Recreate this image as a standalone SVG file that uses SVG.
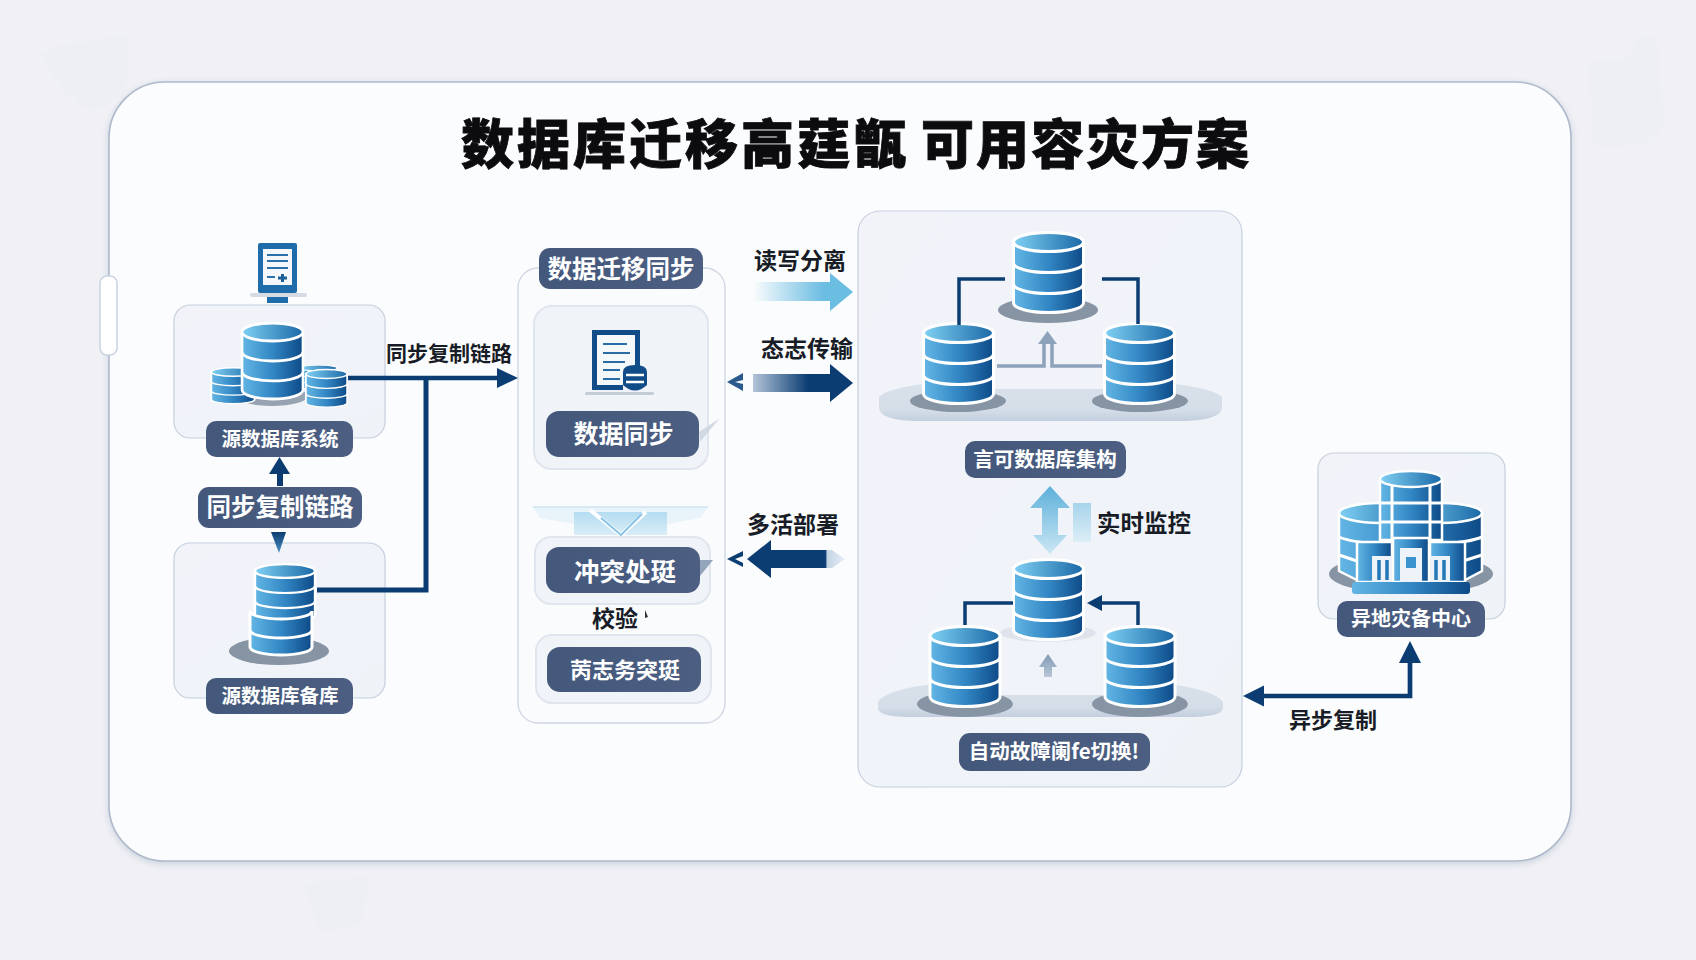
<svg xmlns="http://www.w3.org/2000/svg" xmlns:xlink="http://www.w3.org/1999/xlink" width="1696" height="960" viewBox="0 0 1696 960">
<style>
text{font-family:"Noto Sans CJK SC","Noto Sans",sans-serif}
.panel{fill:url(#panelFill);stroke:#c6d0de;stroke-width:1.2}
.sub{fill:#f0f3f8;stroke:#e0e6ee;stroke-width:2}
.pill{fill:url(#pillFill)}
.pt{fill:#fff;font-weight:700;text-anchor:middle;dominant-baseline:central;transform:translateY(-2px)}
.lb{fill:#171c26;font-weight:600;text-anchor:middle;dominant-baseline:central;transform:translateY(-2px)}
.navy{stroke:#0b3d73;fill:none}
.hd{fill:#0b3d73}
.shd{fill:#8794a4}
.band{fill:none;stroke:#fff;stroke-width:3}
.blk{fill:url(#bodyFill);stroke:#fff;stroke-width:2.5}
</style>
<defs>
<linearGradient id="panelFill" x1="0" y1="0" x2="1" y2="1"><stop offset="0" stop-color="#f1f3f9"/><stop offset="1" stop-color="#eff3f8"/></linearGradient>
<linearGradient id="pillFill" x1="0" y1="0" x2="1" y2="0"><stop offset="0" stop-color="#44587c"/><stop offset="1" stop-color="#4c5f83"/></linearGradient>
<linearGradient id="bodyFill" x1="0" y1="0" x2="1" y2="0"><stop offset="0" stop-color="#63b6e4"/><stop offset=".5" stop-color="#3287c4"/><stop offset="1" stop-color="#0d4a87"/></linearGradient>
<linearGradient id="topFill" x1="0" y1="0" x2="1" y2="0"><stop offset="0" stop-color="#7fd0f3"/><stop offset="1" stop-color="#1b69a7"/></linearGradient>
<linearGradient id="a1" x1="0" y1="0" x2="1" y2="0"><stop offset="0" stop-color="#6cbde2" stop-opacity="0"/><stop offset=".7" stop-color="#6cbde2"/></linearGradient>
<linearGradient id="a2" x1="0" y1="0" x2="1" y2="0"><stop offset="0" stop-color="#b3c4d8"/><stop offset=".55" stop-color="#0b3d73"/></linearGradient>
<linearGradient id="a3" x1="0" y1="0" x2="1" y2="0"><stop offset="0" stop-color="#0b3d73"/><stop offset=".8" stop-color="#0b3d73"/><stop offset=".82" stop-color="#c3d3e4"/><stop offset="1" stop-color="#e9eff6"/></linearGradient>
<linearGradient id="a4" x1="0" y1="0" x2="0" y2="1"><stop offset="0" stop-color="#5cb0da"/><stop offset="1" stop-color="#cbe6f4"/></linearGradient>
<linearGradient id="a5" x1="0" y1="0" x2="0" y2="1"><stop offset="0" stop-color="#a7d3ea"/><stop offset="1" stop-color="#dcEEf7"/></linearGradient>
<linearGradient id="a6" x1="0" y1="0" x2="0" y2="1"><stop offset="0" stop-color="#8098b3"/><stop offset="1" stop-color="#b9c8d8"/></linearGradient>
<linearGradient id="a7" x1="0" y1="0" x2="0" y2="1"><stop offset="0" stop-color="#0b3d73"/><stop offset="1" stop-color="#4d8fc2"/></linearGradient>
<linearGradient id="plat" x1="0" y1="0" x2="0" y2="1"><stop offset="0" stop-color="#d8e1ea"/><stop offset=".7" stop-color="#d5dee8"/><stop offset="1" stop-color="#c3cfde"/></linearGradient>
<linearGradient id="chev" x1="0" y1="0" x2="0" y2="1"><stop offset="0" stop-color="#b5dcf1"/><stop offset="1" stop-color="#d8edf8"/></linearGradient>
<filter id="soft" x="-5%" y="-5%" width="110%" height="110%"><feDropShadow dx="0" dy="2" stdDeviation="3" flood-color="#8fa2b8" flood-opacity=".4"/></filter>
<filter id="blur" x="-20%" y="-20%" width="140%" height="140%"><feGaussianBlur stdDeviation="3"/></filter>
<g id="cyl">
<path d="M-35,0V61A35,9.5 0 0 0 35,61V0Z" fill="url(#bodyFill)" stroke="#fff" stroke-width="3"/>
<ellipse cx="0" cy="0" rx="35" ry="9.5" fill="url(#topFill)" stroke="#fff" stroke-width="3"/>
<path class="band" d="M-35,21A35,9.5 0 0 0 35,21M-35,42A35,9.5 0 0 0 35,42"/>
</g>
</defs>

<rect width="1696" height="960" fill="#f0f0f5"/>
<g id="background" fill="#edeff4" filter="url(#blur)">
<path d="M42,55Q70,40 85,45L125,35Q130,60 125,85Q110,105 90,110Q55,85 42,55Z"/>
<path d="M1590,62L1630,60L1640,35L1655,38L1662,120L1650,142L1595,146Z"/>
<path d="M305,885L368,878L360,925L320,930Z"/>
</g>
<rect id="card" x="109" y="82" width="1462" height="779" rx="56" fill="#fbfcfd" stroke="#aebacb" stroke-width="1.6" filter="url(#soft)"/>

<g id="handle"><rect x="100" y="276" width="17" height="79" rx="7" fill="#fff" stroke="#c9d3e1" stroke-width="1.5"/></g>

<text id="title" y="141" font-size="53" font-weight="900" fill="#0c0c0e" stroke="#0c0c0e" stroke-width=".8" dominant-baseline="central" x="461 517 573 629 685 741 797 853 921 976 1031 1086 1141 1196">数据库迁移高莛甑可用容灾方案</text>

<g id="doc-top">
<rect x="258" y="243" width="39" height="50" rx="2" fill="#1f6cab"/>
<rect x="263" y="249" width="29" height="36" fill="#f4f7fb"/>
<path d="M267,255H288M267,261H288M267,268H288M267,277H275" stroke="#2a70ab" stroke-width="2.2" fill="none"/>
<path d="M278,278H287M282.500,274V282" stroke="#1c5e98" stroke-width="3" fill="none"/>
<rect x="250" y="293" width="57" height="4" rx="2" fill="#d4dbe4"/>
<rect x="267" y="297" width="21" height="6" fill="#1f6cab"/>
</g>

<g id="source-db">
<rect class="panel" x="174" y="305" width="211" height="133" rx="16"/>
<ellipse class="shd" cx="272" cy="396" rx="36" ry="10" opacity=".85"/>
<use href="#cyl" transform="translate(233,372) scale(.62,.45)"/>
<use href="#cyl" transform="translate(318,368) scale(.55,.3)"/>
<use href="#cyl" transform="translate(272.500,332) scale(.87,.95)"/>
<use href="#cyl" transform="translate(326.500,374) scale(.59,.47)"/>
<rect class="pill" x="206" y="421" width="147" height="36" rx="10"/>
<text class="pt" x="280" y="439" font-size="19.500">源数据库系统</text>
</g>

<g id="sync-link">
<rect class="pill" x="198" y="487" width="164" height="41" rx="11"/>
<text class="pt" x="280" y="507" font-size="24.500">同步复制链路</text>
</g>

<g id="backup-db">
<rect class="panel" x="174" y="543" width="211" height="155" rx="16"/>
<ellipse class="shd" cx="279" cy="651" rx="50" ry="14"/>
<use href="#cyl" transform="translate(285,571) scale(.86,.72)"/>
<path d="M250,611A31,8 0 0 0 312,611V647A31,8 0 0 1 250,647Z" fill="url(#bodyFill)" stroke="#fff" stroke-width="3"/>
<path class="band" d="M250,630A31,8 0 0 0 312,630"/>
<rect class="pill" x="206" y="678" width="147" height="36" rx="10"/>
<text class="pt" x="280" y="696" font-size="19.500">源数据库备库</text>
</g>

<g id="migration">
<rect x="518" y="268" width="207" height="455" rx="20" fill="#fafbfd" stroke="#cdd6e3" stroke-width="1.3"/>
<rect class="pill" x="539" y="248" width="164" height="41" rx="11"/>
<text class="pt" x="621" y="269" font-size="24.500">数据迁移同步</text>
<rect class="sub" x="534" y="306" width="174" height="163" rx="18"/>
<path d="M592,330H640V372H623V390H592Z" fill="#0f4c88"/>
<rect x="597" y="335" width="38" height="50" fill="#f5f8fb"/>
<path d="M603,344H627M603,353H630M603,362H625M603,370H620M603,379H620" stroke="#2a6ca6" stroke-width="2" fill="none"/>
<rect x="585" y="392" width="69" height="3" rx="1.500" fill="#c4ccd6"/>
<path d="M623,372Q623,365 635,365Q647,365 647,372V385Q635,396 623,385Z" fill="#0f4c88"/>
<path d="M626,375H644M626,382H644" stroke="#fff" stroke-width="2.400" fill="none"/>
<rect class="pill" x="546" y="411" width="153" height="46" rx="13"/>
<text class="pt" x="623.500" y="434" font-size="25">数据同步</text>
<path d="M699,432L720,418L700,442Z" fill="#c2cedc" opacity=".7"/>

<g id="chevron">
<path d="M533,507H708L700,518L667,524V535H574V524L540,518Z" fill="#e8f3fa"/>
<rect x="574" y="512" width="93" height="23" fill="url(#chev)"/>
<path d="M533,507H708" stroke="#cfe4f2" stroke-width="1.500"/>
<path d="M590,510L621,535L646,512" fill="none" stroke="#fff" stroke-width="4"/>
<path d="M601,518L621,535L642,514" fill="none" stroke="#86c2e6" stroke-width="1.800"/>
</g>

<rect class="sub" x="535" y="537" width="175" height="67" rx="16"/>
<rect class="pill" x="546" y="547" width="154" height="46" rx="13"/>
<text class="pt" x="625" y="571" font-size="25.500">冲突处珽</text>
<path d="M700,560H713L700,576Z" fill="#93a5bb"/>
<text class="lb" x="615" y="619" font-size="23">校验</text>
<path d="M645,610L648,617L645,618Z" fill="#333"/>
<rect class="sub" x="536" y="635" width="175" height="68" rx="16"/>
<rect class="pill" x="547" y="647" width="154" height="45" rx="13"/>
<text class="pt" x="625" y="670" font-size="22">苪志务突珽</text>
</g>

<g id="ha-cluster">
<rect class="panel" x="858" y="211" width="384" height="576" rx="22"/>
<path d="M879,397C885,390 915,383 945,383L960,389H1130L1150,383C1185,383 1215,390 1222,397V407C1222,417 1205,421 1180,421H920C895,421 879,417 879,407Z" fill="url(#plat)"/>
<ellipse class="shd" cx="1048" cy="310" rx="50" ry="13"/>
<ellipse class="shd" cx="958" cy="401" rx="48" ry="11"/>
<ellipse class="shd" cx="1140" cy="401" rx="48" ry="11"/>
<use href="#cyl" transform="translate(1048.500,242)"/>
<use href="#cyl" transform="translate(958.500,333)"/>
<use href="#cyl" transform="translate(1139.500,333)"/>
<path class="navy" stroke-width="3.500" d="M959,325V279H1005M1102,279H1138V324"/>
<path d="M997,366H1044V343M1102,366H1052V343" fill="none" stroke="#8da3bb" stroke-width="3.500"/>
<path d="M1047.500,331L1057,344H1038Z" fill="#8da3bb"/>
<rect class="pill" x="965" y="441" width="161" height="37" rx="10"/>
<text class="pt" x="1045" y="460" font-size="20.500">言可数据库集构</text>

<path d="M1050,486L1070,508H1058V535H1067L1050,554L1033,535H1042V508H1030Z" fill="url(#a4)"/>
<rect x="1073" y="503" width="18" height="39" fill="url(#a5)"/>
<text class="lb" x="1144" y="524" font-size="23.500">实时监控</text>

<path d="M878,702C885,690 925,683 960,683L975,695H1125L1145,683C1175,683 1215,690 1223,702V708C1223,714 1210,717 1190,717H910C890,717 878,714 878,708Z" fill="url(#plat)"/>
<ellipse cx="1048" cy="633" rx="48" ry="9" fill="#dfe4ec"/>
<ellipse class="shd" cx="965" cy="704" rx="48" ry="13"/>
<ellipse class="shd" cx="1140" cy="704" rx="48" ry="13"/>
<use href="#cyl" transform="translate(1048.500,569)"/>
<use href="#cyl" transform="translate(965,636)"/>
<use href="#cyl" transform="translate(1140,636)"/>
<path class="navy" stroke-width="3.500" d="M965,625V603H1013M1138,625V603H1100"/>
<path class="hd" d="M1087,603L1102,595V611Z"/>
<path d="M1048,654L1057,667H1052V677H1044V667H1039Z" fill="url(#a6)"/>
<rect class="pill" x="959" y="733" width="191" height="38" rx="11"/>
<text class="pt" x="1054" y="752" font-size="20.500">自动故障阑fe切换!</text>
</g>

<g id="dr-center">
<rect class="panel" x="1318" y="453" width="187" height="166" rx="16"/>
<ellipse class="shd" cx="1411" cy="574" rx="82" ry="20"/>
<path d="M1339,513V571L1357,580H1465L1482,571V513Z" fill="url(#bodyFill)" stroke="#fff" stroke-width="2.500"/>
<ellipse cx="1380" cy="513" rx="41" ry="10" fill="url(#topFill)" stroke="#fff" stroke-width="2.500"/>
<ellipse cx="1441" cy="513" rx="41" ry="10" fill="url(#topFill)" stroke="#fff" stroke-width="2.500"/>
<path class="band" d="M1339,537Q1350,542 1380,544M1339,555L1357,561M1482,537Q1470,542 1442,544M1482,555L1463,561"/>
<path d="M1380,479V540H1442V479Z" fill="url(#bodyFill)" stroke="#fff" stroke-width="2.500"/>
<ellipse cx="1411" cy="479" rx="31" ry="8" fill="url(#topFill)" stroke="#fff" stroke-width="2.500"/>
<path class="band" d="M1392,486V540M1430,486V540M1380,503H1442M1380,522H1442"/>
<rect class="blk" x="1357" y="542" width="35" height="40"/>
<rect class="blk" x="1430" y="542" width="35" height="40"/>
<rect class="blk" x="1393" y="538" width="36" height="44"/>
<path d="M1372,582V556H1392V582ZM1430,582V556H1450V582Z" fill="#eef3f9"/>
<path d="M1379,560V580M1387,560V580M1436,560V580M1444,560V580" stroke="#2378b6" stroke-width="3.500"/>
<rect x="1400" y="548" width="22" height="34" fill="#eef3f9"/>
<rect x="1406" y="557" width="10" height="11" fill="#3a93cf"/>
<rect x="1352" y="582" width="118" height="12" rx="3" fill="url(#bodyFill)"/>
<rect class="pill" x="1337" y="601" width="148" height="36" rx="10"/>
<text class="pt" x="1411" y="619" font-size="20">异地灾备中心</text>
</g>

<g id="connectors">
<path class="navy" stroke-width="4.500" d="M348,378H500"/>
<path class="navy" stroke-width="5" d="M317,590H426V378"/>
<path class="hd" d="M518,378L497,368V388Z"/>
<text class="lb" x="449" y="354" font-size="21">同步复制链路</text>
<path class="hd" d="M279.500,457L290,474H283V486H277V474H269Z"/>
<path d="M271,532H286L279,553Z" fill="url(#a7)"/>
<text class="lb" x="800" y="261" font-size="23">读写分离</text>
<path d="M753,282H830V273L853,292L830,311V301H753Z" fill="url(#a1)"/>
<text class="lb" x="807" y="349" font-size="23">态志传输</text>
<path d="M753,374H830V364L853,383L830,402V392H753Z" fill="url(#a2)"/>
<path d="M727,382L743,373V380L735,382L743,384V391Z" fill="#2a5a8c"/>
<text class="lb" x="793" y="525" font-size="23">多活部署</text>
<path d="M747,559L771,540V550H832L845,559L832,568H771V578Z" fill="url(#a3)"/>
<path d="M727,559L743,551V556L735,559L743,563V567Z" fill="#0b3d73"/>
<path class="navy" stroke-width="4.700" d="M1262,696H1410V661"/>
<path class="hd" d="M1243,696L1264,685.500V706.500Z"/>
<path class="hd" d="M1410,641L1421,663H1399Z"/>
<text class="lb" x="1333" y="720" font-size="22">异步复制</text>
</g>
</svg>
